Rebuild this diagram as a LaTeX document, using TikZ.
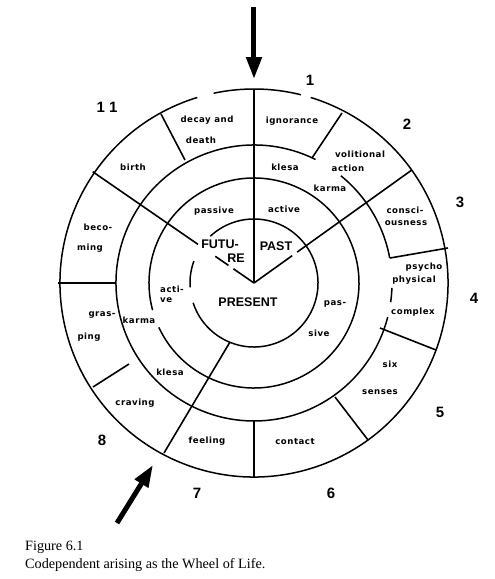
\documentclass[tikz,border=0pt]{standalone}
\usepackage{fontspec}
\setmainfont{Liberation Serif}
\newfontfamily\labfont{DejaVu Sans Bold}[LetterSpace=6]
\newfontfamily\bigfont{Liberation Sans Bold}
\usetikzlibrary{arrows.meta}
\tikzset{
  ring/.style={line width=1.5pt},
  spoke/.style={line width=1.6pt},
  lab/.style={font=\labfont\fontsize{8.6}{10}\selectfont, inner sep=0pt},
  big/.style={font=\bigfont\fontsize{12.5}{13}\selectfont, inner sep=0pt},
  num/.style={font=\bigfont\fontsize{15}{16}\selectfont, inner sep=0pt},
  bigarrow/.style={line width=5pt, -{Triangle[length=22pt,width=15pt]}},
  captext/.style={font=\fontsize{14.2}{15}\selectfont, inner sep=0pt, anchor=west}
}
\begin{document}
\begin{tikzpicture}[x=1pt,y=1pt]
\useasboundingbox (-254,-296) rectangle (241,283);
\coordinate (c) at (0,0);
% rings
\draw[ring] (76:194) arc[start angle=76,end angle=102,radius=194pt];
\draw[ring] (107:194) arc[start angle=107,end angle=433,radius=194pt];
\draw[ring] (-8:138) arc[start angle=-8,end angle=-2,radius=138pt];
\draw[ring] (10.4:138) arc[start angle=10.4,end angle=51,radius=138pt];
\draw[ring] (63.5:138) arc[start angle=63.5,end angle=345.7,radius=138pt];
\draw[ring] (205:105) arc[start angle=205,end angle=555,radius=105pt];
\draw[ring] (160:64) arc[start angle=160,end angle=184,radius=64pt];
\draw[ring] (198:64) arc[start angle=198,end angle=493,radius=64pt];
% spokes
\draw[spoke] (c) -- (90:194);
\draw[spoke] (c) -- (35.6:47);
\draw[spoke] (35.6:53) -- (35.6:194);
\draw[spoke] (c) -- (145.4:25);
\draw[spoke] (145.4:31) -- (145.4:47);
\draw[spoke] (145.4:68) -- (145.4:196);
\draw[spoke] (-24,-59) -- (-90,-170);
\draw[spoke] (270:138) -- (270:194);
\draw[spoke] (58,125) -- (88,170);
\draw[spoke] (136,25) -- (194,35);
\draw[spoke] (126,-45) -- (182,-67);
\draw[spoke] (81,-114) -- (114,-157);
\draw[spoke] (-196,0) -- (-138,0);
\draw[spoke] (-161,-104) -- (-125,-81);
\draw[spoke] (-93,169) -- (-69,123);
% outer ring labels
\node[lab] (decay) at (-47,163) {decay and};
\node[lab] (death) at (-53,143) {death};
\node[lab] (birth) at (-121,116) {birth};
\node[lab] (beco) at (-156,56) {beco-};
\node[lab] (ming) at (-164,35) {ming};
\node[lab] (ign) at (38,162) {ignorance};
\node[lab] (voli) at (106,129) {volitional};
\node[lab] (act) at (94,115) {action};
\node[lab] (consci) at (151,73) {consci-};
\node[lab] (ousness) at (152,60) {ousness};
\node[lab] (psycho) at (170,16) {psycho};
\node[lab] (phys) at (160,3) {physical};
\node[lab] (compl) at (159,-29) {complex};
\node[lab] (six) at (136,-81) {six};
\node[lab] (senses) at (126,-109) {senses};
\node[lab] (contact) at (41,-159) {contact};
\node[lab] (feeling) at (-47,-158) {feeling};
\node[lab] (craving) at (-119,-120) {craving};
\node[lab] (gras) at (-152,-32) {gras-};
\node[lab] (ping) at (-165,-54) {ping};
% middle labels
\node[lab] (klesaA) at (31,116) {klesa};
\node[lab] (karmaA) at (76,95) {karma};
\node[lab] (klesaB) at (-84,-89) {klesa};
\node[lab] (karmaB) at (-115,-37) {karma};
\node[lab] (passA) at (-40,72) {passive};
\node[lab] (actA) at (30,74) {active};
\node[lab,anchor=west] (actiB) at (-94,-6) {acti-};
\node[lab,anchor=west] (veB) at (-94,-17) {ve};
\node[lab] (pasB) at (81,-21) {pas-};
\node[lab] (siveB) at (65,-50) {sive};
% centre
\node[big] (past) at (22,37) {PAST};
\node[big] (futu) at (-34,39) {FUTU-};
\node[big] (re) at (-18,25) {RE};
\node[big] (present) at (-6,-19) {PRESENT};
% numbers
\node[num] (n1) at (56,203) {1};
\node[num] (n2) at (153,159) {2};
\node[num] (n3) at (206,81) {3};
\node[num] (n4) at (220,-15) {4};
\node[num] (n5) at (186,-129) {5};
\node[num] (n6) at (77,-210) {6};
\node[num] (n7) at (-57,-210) {7};
\node[num] (n8) at (-152,-157) {8};
\node[num] (n11) at (-147,176) {1 1};
% arrows
\coordinate (a1s) at (0,276);
\coordinate (a1e) at (0,204);
\coordinate (a2s) at (-137,-240);
\coordinate (a2e) at (-101,-182);
\draw[bigarrow] (a1s) -- (a1e);
\draw[bigarrow] (a2s) -- (a2e);
% caption
\node[captext] (cap1) at (-229,-264) {Figure 6.1};
\node[captext] (cap2) at (-229,-282) {Codependent arising as the Wheel of Life.};
\end{tikzpicture}
\end{document}
